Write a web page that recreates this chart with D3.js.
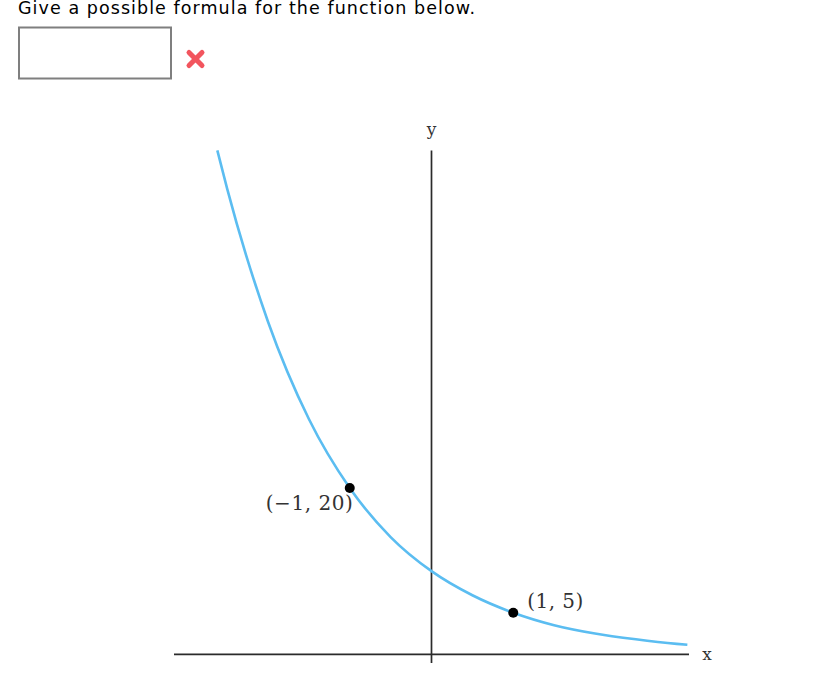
<!DOCTYPE html>
<html>
<head>
<meta charset="utf-8">
<script src="https://cdn.jsdelivr.net/npm/d3@7"></script>
<style>
  body { margin: 0; background: #fff; }
  svg { display: block; }
</style>
</head>
<body>
<div id="plot"></div>
<script>
// Curve points (x, y)
const curveX = [-2.62, -2.5, -2, -1.5, -1, -0.5, 0, 0.5, 1, 1.5, 2, 2.5, 3, 3.13];
const curveY = [60.6, 56, 40, 28.3, 20, 14.1, 10, 7.1, 5, 3.5, 2.5, 1.8, 1.25, 1.14];

// Marked points and their labels
const markedX = [-1, 1];
const markedY = [20, 5];
const markedLabels = ["(\u22121, 20)", "(1, 5)"];
const labelWidths = [87, 56];

const width = 838, height = 682;

const svg = d3.select("#plot")
  .append("svg")
    .attr("width", width).attr("height", height);

// Question text, answer box and the red cross
svg.append("text")
  .attr("x", 18).attr("y", 14)
  .attr("textLength", 457)
  .style("font-family", "DejaVu Sans, sans-serif")
  .style("font-size", "17.5px")
  .attr("fill", "#000")
  .text("Give a possible formula for the function below.");

svg.append("rect")
  .attr("x", 19).attr("y", 27.5).attr("width", 152).attr("height", 51)
  .attr("fill", "#fff").attr("stroke", "#7f7f7f").attr("stroke-width", 2);

const cross = svg.append("g").attr("stroke", "#f2555e").attr("stroke-width", 5).attr("stroke-linecap", "round");
cross.append("line").attr("x1", 189).attr("y1", 52.5).attr("x2", 202).attr("y2", 65.5);
cross.append("line").attr("x1", 202).attr("y1", 52.5).attr("x2", 189).attr("y2", 65.5);

// Scales
const x = d3.scaleLinear().domain([-3.15, 3.15]).range([174, 689]);
const y = d3.scaleLinear().domain([0, 20]).range([654.3, 488]);

// Axes
const axisColor = "#2b2b2b";
svg.append("line")
  .attr("x1", x(-3.15)).attr("x2", x(3.15))
  .attr("y1", y(0)).attr("y2", y(0))
  .attr("stroke", axisColor).attr("stroke-width", 1.7);
svg.append("line")
  .attr("x1", x(0)).attr("x2", x(0))
  .attr("y1", y(60.6)).attr("y2", y(-1.05))
  .attr("stroke", axisColor).attr("stroke-width", 1.7);

const labelFont = "DejaVu Serif, Liberation Serif, serif";
svg.append("text")
  .attr("x", x(3.15) + 18).attr("y", y(0) + 6)
  .attr("text-anchor", "middle")
  .style("font-family", labelFont).style("font-size", "17px")
  .attr("fill", "#333")
  .text("x");
svg.append("text")
  .attr("x", x(0)).attr("y", y(60.6) - 15)
  .attr("text-anchor", "middle")
  .style("font-family", labelFont).style("font-size", "17px")
  .attr("fill", "#333")
  .text("y");

// Curve
const line = d3.line()
  .x(d => x(d[0]))
  .y(d => y(d[1]))
  .curve(d3.curveMonotoneX);
svg.append("path")
  .datum(curveX.map((v, i) => [v, curveY[i]]))
  .attr("d", line)
  .attr("fill", "none")
  .attr("stroke", "#5bbdf1")
  .attr("stroke-width", 2.6);

// Marked points
const points = markedX.map((v, i) => ({ x: v, y: markedY[i], label: markedLabels[i], w: labelWidths[i] }));
svg.append("g").selectAll("circle")
  .data(points)
  .enter()
  .append("circle")
    .attr("cx", d => x(d.x))
    .attr("cy", d => y(d.y))
    .attr("r", 5)
    .attr("fill", "#000");

svg.append("g").selectAll("text")
  .data(points)
  .enter()
  .append("text")
    .attr("x", d => d.x < 0 ? x(d.x) + 3 - d.w : x(d.x) + 14)
    .attr("y", d => d.x < 0 ? y(d.y) + 22 : y(d.y) - 5)
    .attr("textLength", d => d.w)
    .style("font-family", labelFont).style("font-size", "20px")
    .attr("fill", "#333")
    .text(d => d.label);
</script>
</body>
</html>
